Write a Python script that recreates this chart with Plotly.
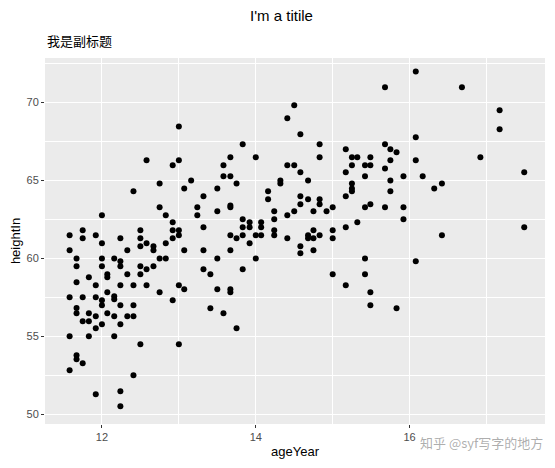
import plotly.graph_objects as go

age = [11.58]*5 + [11.67]*7 + [11.75]*5 + [11.83]*4 + [11.92]*6 + [12.00]*7 + [12.07]*4 + [12.16]*5 + [12.24]*8 + [12.33]*3 + [12.41]*5 + [12.50]*6 + [12.58]*4 + [12.67]*3 + [12.75]*4 + [12.83]*3 + [12.92]*5 + [13.00]*6 + [13.07]*3 + [13.16] + [13.24]*2 + [13.32]*4 + [13.41]*2 + [13.50]*4 + [13.58]*3 + [13.67]*8 + [13.75]*3 + [13.83]*5 + [13.92]*3 + [14.00]*3 + [14.07]*3 + [14.16]*2 + [14.24]*4 + [14.32]*2 + [14.41]*4 + [14.50]*3 \
    + [14.58]*6 + [14.68]*4 + [14.75]*4 + [14.83]*5 + [14.92] + [15.00]*4 + [15.17]*5 + [15.25]*5 + [15.32]*2 + [15.42]*5 + [15.49]*5 + [15.68]*4 + [15.75]*4 + [15.83]*2 + [15.92]*3 + [16.08]*4 + [16.17] + [16.32] + [16.42]*2 + [16.68] + [16.92] + [17.17]*2 + [17.49]*2

height = [61.49, 60.53, 57.52, 55.02, 52.84,
          60.0, 59.5, 58.48, 56.83, 56.49, 53.8, 53.55,
          61.81, 61.29, 57.52, 55.98, 53.29,
          58.8, 56.49, 55.98, 55.02,
          61.49, 58.28, 57.52, 56.3, 55.53, 51.3,
          62.77, 60.97, 60.0, 59.5, 57.32, 57.0, 55.79,
          58.99, 58.8, 57.84, 56.49,
          60.0, 57.58, 57.39, 56.3, 55.02,
          61.29, 59.82, 59.5, 58.28, 57.0, 55.79, 51.5, 50.54,
          60.53, 58.99, 56.3,
          64.3, 58.28, 57.0, 56.3, 52.52,
          61.81, 61.29, 60.78, 59.5, 58.99, 54.5,
          66.29, 60.97, 59.31, 58.28,
          60.78, 60.53, 59.5,
          64.81, 63.28, 60.0, 57.84,
          62.77, 60.97, 60.0,
          65.97, 62.32, 61.81, 61.29, 57.32,
          68.46, 66.29, 61.81, 61.49, 54.5, 58.28,
          64.49, 60.53, 58.03,
          65.0,
          63.28, 62.77,
          63.98, 62.0, 60.53, 59.31,
          58.99, 56.81,
          64.49, 63.02, 60.0, 58.03,
          65.97, 65.26, 56.49,
          66.48, 65.26, 63.4, 63.28, 61.49, 60.53, 58.03, 57.84,
          64.81, 61.29, 55.53,
          67.31, 62.51, 62.0, 61.49, 59.31,
          62.32, 62.0, 60.97,
          66.48, 61.49, 60.0,
          62.32, 62.0, 61.49,
          64.3, 63.79,
          63.02, 62.51, 61.81, 61.49,
          65.0, 64.81,
          68.98, 65.97, 62.77, 61.29,
          69.81, 65.97, 63.02,
          67.95, 65.52, 63.98, 63.47, 60.78, 60.33,
          65.0, 63.79, 61.49, 61.29,
          63.02, 61.81, 61.29, 60.53,
          67.31, 66.48, 63.79, 63.47, 61.49,
          63.02,
          63.28, 61.81, 61.29, 58.99,
          66.99, 65.52, 63.98, 62.0, 58.28,
          66.48, 65.97, 64.81, 64.49, 64.3,
          66.48, 62.32,
          65.97, 65.26, 63.28, 60.0, 58.99,
          66.48, 65.97, 63.47, 57.84, 57.0,
          70.96, 67.31, 65.77, 63.28,
          66.99, 66.29, 65.0, 64.3,
          66.8, 56.81,
          65.26, 63.28, 62.51,
          71.98, 67.76, 66.29, 59.82,
          65.26,
          64.49,
          64.81, 61.49,
          70.96,
          66.48,
          69.49, 68.27,
          65.52, 62.0]

x_ticks = [12, 14, 16]
y_ticks = [50, 55, 60, 65, 70]

W, H = 547, 460
fig = go.Figure(go.Scatter(x=age, y=height, mode="markers",
                           marker=dict(color="black", size=6), showlegend=False))

fig.update_layout(
    width=W, height=H,
    margin=dict(l=37, r=10, t=50, b=44),
    paper_bgcolor="white", plot_bgcolor="#EBEBEB",
    font=dict(family="Liberation Sans, Arial", color="black"),
    title=dict(text="I'm a titile", x=0.5, xanchor="center", y=1 - 8 / H, yanchor="middle",
               font=dict(size=15, color="black")),
    annotations=[
        dict(text="我是副标题", xref="paper", yref="paper", x=0, y=1.0, yshift=18,
             xanchor="left", yanchor="middle", showarrow=False,
             font=dict(size=13, color="black", family="Noto Sans CJK SC")),
        dict(text="知乎 @syf写字的地方", xref="paper", yref="paper", x=1.0, y=0.0, yshift=-18,
             xanchor="right", yanchor="middle", showarrow=False,
             font=dict(size=13, color="rgba(120,120,120,0.6)", family="Noto Sans CJK SC")),
    ],
)
fig.update_xaxes(range=[11.26, 17.76], tickvals=x_ticks, ticktext=[str(v) for v in x_ticks],
                 automargin=False,
                 showgrid=True, gridcolor="white", gridwidth=1.2, zeroline=False,
                 minor=dict(tickvals=[13, 15, 17], showgrid=True, gridcolor="white", gridwidth=0.5),
                 ticks="outside", ticklen=3, tickcolor="#333333",
                 tickfont=dict(size=11, color="#4D4D4D"),
                 title=dict(text="ageYear", font=dict(size=13), standoff=4))
fig.update_yaxes(range=[49.4, 72.84], tickvals=y_ticks, ticktext=[str(v) for v in y_ticks],
                 automargin=False,
                 showgrid=True, gridcolor="white", gridwidth=1.2, zeroline=False,
                 minor=dict(tickvals=[52.5, 57.5, 62.5, 67.5, 72.5], showgrid=True, gridcolor="white", gridwidth=0.5),
                 ticks="outside", ticklen=3, tickcolor="#333333",
                 tickfont=dict(size=11, color="#4D4D4D"),
                 title=dict(text="heightIn", font=dict(size=13), standoff=4))

fig.write_html("out.html")
